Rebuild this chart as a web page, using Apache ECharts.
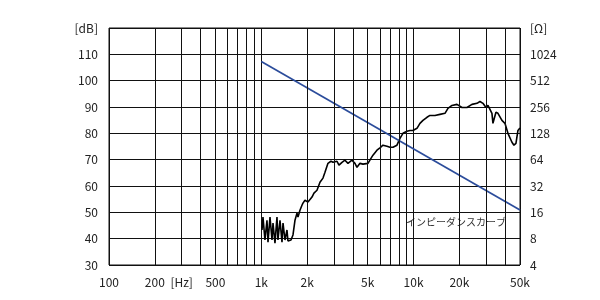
<!DOCTYPE html>
<html><head><meta charset="utf-8">
<script src="https://cdn.jsdelivr.net/npm/echarts@6/dist/echarts.min.js"></script>
<style>html,body{margin:0;padding:0;background:#fff}#c{width:600px;height:300px}</style>
</head><body><div id="c"></div>
<script>
// SPL response (Hz, dB)
const splFreq = [1011,1026,1057,1090,1107,1141,1176,1194,1230,1268,1287,1327,1368,1389,1431,1475,1497,1567,1615,1665,1716,1742,1795,1850,1878,1936,2026,2153,2218,2322,2429,2542,2620,2741,2868,2957,3141,3237,3388,3545,3710,3939,4123,4251,4448,4654,4796,5018,5251,5413,5750,6016,6296,6690,6999,7324,7780,8142,8518,9051,9471,9911,10528,11016,11527,12246,12814,13818,14906,16077,16823,17869,19275,20790,22425,24181,26085,27292,28559,29884,30800,31740,32714,33212,34754,35824,38055,39820,41670,44271,45628,47032,48473,49960];
const splDb = [43.3,48.2,39.5,47.0,38.7,48.2,39.5,45.9,38.3,48.2,39.5,47.0,38.7,45.9,39.5,43.3,39.1,39.5,41.4,47.0,49.7,48.2,50.8,52.7,53.5,54.6,53.9,55.8,57.3,58.4,61.4,63.0,65.2,68.6,69.4,69.0,69.4,67.9,69.0,69.8,68.6,69.8,68.6,67.1,68.6,68.3,69.0,68.6,70.5,71.7,73.6,74.5,75.5,75.1,74.7,74.7,75.5,78.1,80.0,80.8,81.1,81.1,81.9,83.8,84.9,86.1,86.8,86.8,87.2,87.6,89.5,90.6,91.0,89.8,89.8,91.0,91.4,92.1,91.4,89.8,90.6,90.6,87.6,83.8,88.0,87.6,84.9,83.8,80.0,76.6,75.5,76.2,81.1,82.0];
// Impedance curve (Hz, Ohm)
const impFreq = [1000, 50000];
const impOhm = [850, 17];
// Axis ticks
const xGridValues = [200,300,400,500,600,700,800,900,2000,3000,4000,5000,6000,7000,8000,9000,20000,30000,40000];
const xLabelValues = [100,200,300,500,1000,2000,5000,10000,20000,50000];
const xLabelTexts = ['100','200','[Hz]','500','1k','2k','5k','10k','20k','50k'];
const dbTop = 120;
const ohmTop = 2048;
const impLabel = 'インピーダンスカーブ';

const FONT = '"Noto Sans CJK JP", "Noto Sans", sans-serif';
const GRID_COLOR = '#111';
const chart = echarts.init(document.getElementById('c'));
chart.setOption({
  animation: false,
  grid: {left: 109, right: 80, top: 28, bottom: 35, show: true, borderColor: GRID_COLOR, borderWidth: 1},
  xAxis: {
    type: 'log', logBase: 10, min: 100, max: 50000,
    axisLine: {show: false}, axisTick: {show: false},
    splitLine: {show: true, lineStyle: {color: GRID_COLOR, width: 1}},
    axisLabel: {
      customValues: xLabelValues, margin: 11, fontSize: 12, color: '#222', fontFamily: FONT,
      formatter: v => { const i = xLabelValues.indexOf(Math.round(v)); return i >= 0 ? xLabelTexts[i] : ''; }
    }
  },
  yAxis: [
    {type: 'value', min: 30, max: 120, interval: 10,
     axisLine: {show: false}, axisTick: {show: false},
     splitLine: {show: true, lineStyle: {color: GRID_COLOR, width: 1}},
     axisLabel: {margin: 11, fontSize: 12, color: '#222', fontFamily: FONT,
       formatter: v => v === dbTop ? '[dB]' : String(v)}},
    {type: 'log', logBase: 2, min: 4, max: 2048, interval: 1, position: 'right',
     axisLine: {show: false}, axisTick: {show: false}, splitLine: {show: false},
     axisLabel: {margin: 10, fontSize: 12, color: '#222', fontFamily: FONT,
       formatter: v => Math.round(v) >= ohmTop ? '[Ω]' : String(Math.round(v))}}
  ],
  series: [
    {type: 'line', yAxisIndex: 0, symbol: 'none', silent: true, z: 1,
     data: [],
     markLine: {silent: true, symbol: 'none', label: {show: false}, animation: false,
       lineStyle: {color: GRID_COLOR, width: 1, type: 'solid'},
       data: xGridValues.map(v => ({xAxis: v}))}},
    {type: 'line', yAxisIndex: 0, symbol: 'none', z: 3, data: splFreq.map((f, i) => [f, splDb[i]]),
     lineStyle: {color: '#000', width: 1.6}},
    {type: 'line', yAxisIndex: 1, symbol: 'none', z: 3, data: impFreq.map((f, i) => [f, impOhm[i]]),
     lineStyle: {color: '#2b4c9b', width: 1.7}}
  ],
  graphic: [{type: 'text', left: 406, top: 217,
    style: {text: impLabel, fill: '#333', font: '10px ' + FONT}}]
});
</script></body></html>
